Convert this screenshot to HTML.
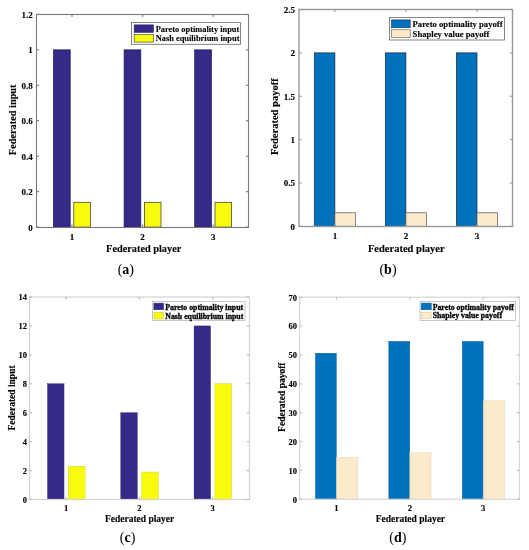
<!DOCTYPE html>
<html><head><meta charset="utf-8"><style>
html,body{margin:0;padding:0;background:#fff;}
body{width:529px;height:550px;overflow:hidden;}
svg{display:block;will-change:transform;filter:blur(0.3px);} text{stroke:#000;stroke-width:0.12px;} svg{font-family:"Liberation Serif", serif;font-weight:bold;fill:#000;}
.cap{font-weight:normal;stroke:none;}
</style></head><body>
<svg width="529" height="550" viewBox="0 0 529 550">
<rect width="529" height="550" fill="#fff"/>
<rect x="53.5" y="49.85" width="16.7" height="177.25" fill="#352a87" stroke="#1a1650" stroke-width="0.7"/>
<rect x="73.8" y="202.28" width="16.6" height="24.81" fill="#f9fb0e" stroke="#333" stroke-width="0.7"/>
<rect x="124.1" y="49.85" width="16.7" height="177.25" fill="#352a87" stroke="#1a1650" stroke-width="0.7"/>
<rect x="144.4" y="202.28" width="16.6" height="24.81" fill="#f9fb0e" stroke="#333" stroke-width="0.7"/>
<rect x="194.7" y="49.85" width="16.7" height="177.25" fill="#352a87" stroke="#1a1650" stroke-width="0.7"/>
<rect x="215" y="202.28" width="16.6" height="24.81" fill="#f9fb0e" stroke="#333" stroke-width="0.7"/>
<rect x="36.5" y="14.5" width="212" height="213" fill="none" stroke="#7a7a7a" stroke-width="1.1"/>
<line x1="36.5" y1="227.1" x2="39.1" y2="227.1" stroke="#7a7a7a" stroke-width="1.1"/>
<line x1="248.5" y1="227.1" x2="245.9" y2="227.1" stroke="#7a7a7a" stroke-width="1.1"/>
<line x1="36.5" y1="191.65" x2="39.1" y2="191.65" stroke="#7a7a7a" stroke-width="1.1"/>
<line x1="248.5" y1="191.65" x2="245.9" y2="191.65" stroke="#7a7a7a" stroke-width="1.1"/>
<line x1="36.5" y1="156.2" x2="39.1" y2="156.2" stroke="#7a7a7a" stroke-width="1.1"/>
<line x1="248.5" y1="156.2" x2="245.9" y2="156.2" stroke="#7a7a7a" stroke-width="1.1"/>
<line x1="36.5" y1="120.75" x2="39.1" y2="120.75" stroke="#7a7a7a" stroke-width="1.1"/>
<line x1="248.5" y1="120.75" x2="245.9" y2="120.75" stroke="#7a7a7a" stroke-width="1.1"/>
<line x1="36.5" y1="85.3" x2="39.1" y2="85.3" stroke="#7a7a7a" stroke-width="1.1"/>
<line x1="248.5" y1="85.3" x2="245.9" y2="85.3" stroke="#7a7a7a" stroke-width="1.1"/>
<line x1="36.5" y1="49.85" x2="39.1" y2="49.85" stroke="#7a7a7a" stroke-width="1.1"/>
<line x1="248.5" y1="49.85" x2="245.9" y2="49.85" stroke="#7a7a7a" stroke-width="1.1"/>
<line x1="36.5" y1="14.4" x2="39.1" y2="14.4" stroke="#7a7a7a" stroke-width="1.1"/>
<line x1="248.5" y1="14.4" x2="245.9" y2="14.4" stroke="#7a7a7a" stroke-width="1.1"/>
<line x1="72" y1="227.1" x2="72" y2="224.5" stroke="#7a7a7a" stroke-width="1.1"/>
<line x1="72" y1="14.4" x2="72" y2="17" stroke="#7a7a7a" stroke-width="1.1"/>
<line x1="142.6" y1="227.1" x2="142.6" y2="224.5" stroke="#7a7a7a" stroke-width="1.1"/>
<line x1="142.6" y1="14.4" x2="142.6" y2="17" stroke="#7a7a7a" stroke-width="1.1"/>
<line x1="213.2" y1="227.1" x2="213.2" y2="224.5" stroke="#7a7a7a" stroke-width="1.1"/>
<line x1="213.2" y1="14.4" x2="213.2" y2="17" stroke="#7a7a7a" stroke-width="1.1"/>
<text x="32.8" y="230.5" font-size="9" text-anchor="end">0</text>
<text x="32.8" y="195.05" font-size="9" text-anchor="end">0.2</text>
<text x="32.8" y="159.6" font-size="9" text-anchor="end">0.4</text>
<text x="32.8" y="124.15" font-size="9" text-anchor="end">0.6</text>
<text x="32.8" y="88.7" font-size="9" text-anchor="end">0.8</text>
<text x="32.8" y="53.25" font-size="9" text-anchor="end">1</text>
<text x="32.8" y="17.8" font-size="9" text-anchor="end">1.2</text>
<text x="72" y="240" font-size="9" text-anchor="middle">1</text>
<text x="142.6" y="240" font-size="9" text-anchor="middle">2</text>
<text x="213.2" y="240" font-size="9" text-anchor="middle">3</text>
<text x="143.7" y="252.3" font-size="10.3" text-anchor="middle">Federated player</text>
<text x="0" y="0" font-size="10.3" text-anchor="middle" transform="translate(15.8 119.8) rotate(-90)">Federated input</text>
<rect x="131.5" y="22.5" width="109" height="21.8" fill="#fff" stroke="#666" stroke-width="0.8"/>
<rect x="134.2" y="24.9" width="19.2" height="7.4" fill="#352a87" stroke="#1a1650" stroke-width="0.6"/>
<text x="155.7" y="31.8" font-size="8.4">Pareto optimality input</text>
<rect x="134.2" y="34.6" width="19.2" height="7.5" fill="#f9fb0e" stroke="#333" stroke-width="0.6"/>
<text x="155.7" y="41.1" font-size="8.4">Nash equilibrium input</text>
<text x="125.8" y="274" font-size="14" text-anchor="middle" class="cap">(<tspan font-weight="bold">a</tspan>)</text>
<rect x="314.3" y="52.86" width="20.6" height="173.44" fill="#0072bd" stroke="#1a2a40" stroke-width="0.7"/>
<rect x="334.9" y="212.77" width="20.6" height="13.53" fill="#fdeacb" stroke="#555" stroke-width="0.7"/>
<rect x="385.3" y="52.86" width="20.6" height="173.44" fill="#0072bd" stroke="#1a2a40" stroke-width="0.7"/>
<rect x="405.9" y="212.77" width="20.6" height="13.53" fill="#fdeacb" stroke="#555" stroke-width="0.7"/>
<rect x="456.4" y="52.86" width="20.6" height="173.44" fill="#0072bd" stroke="#1a2a40" stroke-width="0.7"/>
<rect x="477" y="212.77" width="20.6" height="13.53" fill="#fdeacb" stroke="#555" stroke-width="0.7"/>
<rect x="299" y="9.5" width="213.5" height="217" fill="none" stroke="#999" stroke-width="1.4"/>
<line x1="299.2" y1="226.3" x2="301.8" y2="226.3" stroke="#999" stroke-width="1.1"/>
<line x1="512.4" y1="226.3" x2="509.8" y2="226.3" stroke="#999" stroke-width="1.1"/>
<line x1="299.2" y1="182.94" x2="301.8" y2="182.94" stroke="#999" stroke-width="1.1"/>
<line x1="512.4" y1="182.94" x2="509.8" y2="182.94" stroke="#999" stroke-width="1.1"/>
<line x1="299.2" y1="139.58" x2="301.8" y2="139.58" stroke="#999" stroke-width="1.1"/>
<line x1="512.4" y1="139.58" x2="509.8" y2="139.58" stroke="#999" stroke-width="1.1"/>
<line x1="299.2" y1="96.22" x2="301.8" y2="96.22" stroke="#999" stroke-width="1.1"/>
<line x1="512.4" y1="96.22" x2="509.8" y2="96.22" stroke="#999" stroke-width="1.1"/>
<line x1="299.2" y1="52.86" x2="301.8" y2="52.86" stroke="#999" stroke-width="1.1"/>
<line x1="512.4" y1="52.86" x2="509.8" y2="52.86" stroke="#999" stroke-width="1.1"/>
<line x1="299.2" y1="9.5" x2="301.8" y2="9.5" stroke="#999" stroke-width="1.1"/>
<line x1="512.4" y1="9.5" x2="509.8" y2="9.5" stroke="#999" stroke-width="1.1"/>
<line x1="334.9" y1="226.3" x2="334.9" y2="223.7" stroke="#999" stroke-width="1.1"/>
<line x1="334.9" y1="9.5" x2="334.9" y2="12.1" stroke="#999" stroke-width="1.1"/>
<line x1="405.9" y1="226.3" x2="405.9" y2="223.7" stroke="#999" stroke-width="1.1"/>
<line x1="405.9" y1="9.5" x2="405.9" y2="12.1" stroke="#999" stroke-width="1.1"/>
<line x1="477" y1="226.3" x2="477" y2="223.7" stroke="#999" stroke-width="1.1"/>
<line x1="477" y1="9.5" x2="477" y2="12.1" stroke="#999" stroke-width="1.1"/>
<text x="295" y="229.7" font-size="9" text-anchor="end">0</text>
<text x="295" y="186.34" font-size="9" text-anchor="end">0.5</text>
<text x="295" y="142.98" font-size="9" text-anchor="end">1</text>
<text x="295" y="99.62" font-size="9" text-anchor="end">1.5</text>
<text x="295" y="56.26" font-size="9" text-anchor="end">2</text>
<text x="295" y="12.9" font-size="9" text-anchor="end">2.5</text>
<text x="334.9" y="239.3" font-size="9" text-anchor="middle">1</text>
<text x="405.9" y="239.3" font-size="9" text-anchor="middle">2</text>
<text x="477" y="239.3" font-size="9" text-anchor="middle">3</text>
<text x="406.3" y="252" font-size="10.5" text-anchor="middle">Federated player</text>
<text x="0" y="0" font-size="10.5" text-anchor="middle" transform="translate(278 116.7) rotate(-90)">Federated payoff</text>
<rect x="389.5" y="17.5" width="115" height="22.5" fill="#fff" stroke="#666" stroke-width="0.8"/>
<rect x="391.5" y="19.9" width="18.7" height="7.8" fill="#0072bd" stroke="#1a2a40" stroke-width="0.6"/>
<text x="412.6" y="27" font-size="8.65">Pareto optimality payoff</text>
<rect x="391.5" y="29.8" width="18.7" height="7.8" fill="#fdeacb" stroke="#555" stroke-width="0.6"/>
<text x="412.6" y="36.8" font-size="8.65">Shapley value payoff</text>
<text x="388" y="274" font-size="14" text-anchor="middle" class="cap">(<tspan font-weight="bold">b</tspan>)</text>
<rect x="47.53" y="383.79" width="16.5" height="115.71" fill="#352a87" stroke="#2a2270" stroke-width="0.4"/>
<rect x="68.33" y="466.23" width="16.8" height="33.27" fill="#f9fb0e" stroke="#c8c830" stroke-width="0.4"/>
<rect x="120.8" y="412.71" width="16.5" height="86.79" fill="#352a87" stroke="#2a2270" stroke-width="0.4"/>
<rect x="141.6" y="472.02" width="16.8" height="27.48" fill="#f9fb0e" stroke="#c8c830" stroke-width="0.4"/>
<rect x="194.07" y="325.93" width="16.5" height="173.57" fill="#352a87" stroke="#2a2270" stroke-width="0.4"/>
<rect x="214.87" y="383.79" width="16.8" height="115.71" fill="#f9fb0e" stroke="#c8c830" stroke-width="0.4"/>
<rect x="29.5" y="297" width="220" height="202.5" fill="none" stroke="#d2d2d2" stroke-width="1.2"/>
<line x1="29.5" y1="499.5" x2="32.1" y2="499.5" stroke="#bbb" stroke-width="1.1"/>
<line x1="249.3" y1="499.5" x2="246.7" y2="499.5" stroke="#bbb" stroke-width="1.1"/>
<line x1="29.5" y1="470.57" x2="32.1" y2="470.57" stroke="#bbb" stroke-width="1.1"/>
<line x1="249.3" y1="470.57" x2="246.7" y2="470.57" stroke="#bbb" stroke-width="1.1"/>
<line x1="29.5" y1="441.64" x2="32.1" y2="441.64" stroke="#bbb" stroke-width="1.1"/>
<line x1="249.3" y1="441.64" x2="246.7" y2="441.64" stroke="#bbb" stroke-width="1.1"/>
<line x1="29.5" y1="412.71" x2="32.1" y2="412.71" stroke="#bbb" stroke-width="1.1"/>
<line x1="249.3" y1="412.71" x2="246.7" y2="412.71" stroke="#bbb" stroke-width="1.1"/>
<line x1="29.5" y1="383.79" x2="32.1" y2="383.79" stroke="#bbb" stroke-width="1.1"/>
<line x1="249.3" y1="383.79" x2="246.7" y2="383.79" stroke="#bbb" stroke-width="1.1"/>
<line x1="29.5" y1="354.86" x2="32.1" y2="354.86" stroke="#bbb" stroke-width="1.1"/>
<line x1="249.3" y1="354.86" x2="246.7" y2="354.86" stroke="#bbb" stroke-width="1.1"/>
<line x1="29.5" y1="325.93" x2="32.1" y2="325.93" stroke="#bbb" stroke-width="1.1"/>
<line x1="249.3" y1="325.93" x2="246.7" y2="325.93" stroke="#bbb" stroke-width="1.1"/>
<line x1="29.5" y1="297" x2="32.1" y2="297" stroke="#bbb" stroke-width="1.1"/>
<line x1="249.3" y1="297" x2="246.7" y2="297" stroke="#bbb" stroke-width="1.1"/>
<line x1="66.13" y1="499.5" x2="66.13" y2="496.9" stroke="#bbb" stroke-width="1.1"/>
<line x1="66.13" y1="297" x2="66.13" y2="299.6" stroke="#bbb" stroke-width="1.1"/>
<line x1="139.4" y1="499.5" x2="139.4" y2="496.9" stroke="#bbb" stroke-width="1.1"/>
<line x1="139.4" y1="297" x2="139.4" y2="299.6" stroke="#bbb" stroke-width="1.1"/>
<line x1="212.67" y1="499.5" x2="212.67" y2="496.9" stroke="#bbb" stroke-width="1.1"/>
<line x1="212.67" y1="297" x2="212.67" y2="299.6" stroke="#bbb" stroke-width="1.1"/>
<text x="27" y="502.9" font-size="8.5" text-anchor="end">0</text>
<text x="27" y="473.97" font-size="8.5" text-anchor="end">2</text>
<text x="27" y="445.04" font-size="8.5" text-anchor="end">4</text>
<text x="27" y="416.11" font-size="8.5" text-anchor="end">6</text>
<text x="27" y="387.19" font-size="8.5" text-anchor="end">8</text>
<text x="27" y="358.26" font-size="8.5" text-anchor="end">10</text>
<text x="27" y="329.33" font-size="8.5" text-anchor="end">12</text>
<text x="27" y="300.4" font-size="8.5" text-anchor="end">14</text>
<text x="66.13" y="510.5" font-size="8.5" text-anchor="middle">1</text>
<text x="139.4" y="510.5" font-size="8.5" text-anchor="middle">2</text>
<text x="212.67" y="510.5" font-size="8.5" text-anchor="middle">3</text>
<text x="139.6" y="522" font-size="9.5" text-anchor="middle">Federated player</text>
<text x="0" y="0" font-size="9.5" text-anchor="middle" transform="translate(14.6 398) rotate(-90)">Federated input</text>
<rect x="152.4" y="301.5" width="92.6" height="19" fill="#fff" stroke="#bbb" stroke-width="0.8"/>
<rect x="153.9" y="303.2" width="9.6" height="6.5" fill="#352a87" stroke="#2a2270" stroke-width="0.6"/>
<text x="165.3" y="309.9" font-size="7.8" style="stroke-width:0.3px">Pareto optimality input</text>
<rect x="153.9" y="312.4" width="9.6" height="6.6" fill="#f9fb0e" stroke="#c8c830" stroke-width="0.6"/>
<text x="165.3" y="318.5" font-size="7.8" style="stroke-width:0.3px">Nash equilibrium input</text>
<text x="127.6" y="542" font-size="14" text-anchor="middle" class="cap">(<tspan font-weight="bold">c</tspan>)</text>
<rect x="315.4" y="353.21" width="21" height="146.09" fill="#0072bd" stroke="#0a5a95" stroke-width="0.4"/>
<rect x="336.4" y="457.44" width="21.2" height="41.86" fill="#fdeacb" stroke="#d8c8a8" stroke-width="0.4"/>
<rect x="388.8" y="341.37" width="21" height="157.93" fill="#0072bd" stroke="#0a5a95" stroke-width="0.4"/>
<rect x="409.8" y="452.82" width="21.2" height="46.48" fill="#fdeacb" stroke="#d8c8a8" stroke-width="0.4"/>
<rect x="462.2" y="341.37" width="21" height="157.93" fill="#0072bd" stroke="#0a5a95" stroke-width="0.4"/>
<rect x="483.2" y="400.85" width="21.2" height="98.45" fill="#fdeacb" stroke="#d8c8a8" stroke-width="0.4"/>
<rect x="299.6" y="297.2" width="219.9" height="202.1" fill="none" stroke="#d6d6d6" stroke-width="1.2"/>
<line x1="299.6" y1="499.3" x2="302.2" y2="499.3" stroke="#bbb" stroke-width="1.1"/>
<line x1="519.5" y1="499.3" x2="516.9" y2="499.3" stroke="#bbb" stroke-width="1.1"/>
<line x1="299.6" y1="470.43" x2="302.2" y2="470.43" stroke="#bbb" stroke-width="1.1"/>
<line x1="519.5" y1="470.43" x2="516.9" y2="470.43" stroke="#bbb" stroke-width="1.1"/>
<line x1="299.6" y1="441.56" x2="302.2" y2="441.56" stroke="#bbb" stroke-width="1.1"/>
<line x1="519.5" y1="441.56" x2="516.9" y2="441.56" stroke="#bbb" stroke-width="1.1"/>
<line x1="299.6" y1="412.69" x2="302.2" y2="412.69" stroke="#bbb" stroke-width="1.1"/>
<line x1="519.5" y1="412.69" x2="516.9" y2="412.69" stroke="#bbb" stroke-width="1.1"/>
<line x1="299.6" y1="383.81" x2="302.2" y2="383.81" stroke="#bbb" stroke-width="1.1"/>
<line x1="519.5" y1="383.81" x2="516.9" y2="383.81" stroke="#bbb" stroke-width="1.1"/>
<line x1="299.6" y1="354.94" x2="302.2" y2="354.94" stroke="#bbb" stroke-width="1.1"/>
<line x1="519.5" y1="354.94" x2="516.9" y2="354.94" stroke="#bbb" stroke-width="1.1"/>
<line x1="299.6" y1="326.07" x2="302.2" y2="326.07" stroke="#bbb" stroke-width="1.1"/>
<line x1="519.5" y1="326.07" x2="516.9" y2="326.07" stroke="#bbb" stroke-width="1.1"/>
<line x1="299.6" y1="297.2" x2="302.2" y2="297.2" stroke="#bbb" stroke-width="1.1"/>
<line x1="519.5" y1="297.2" x2="516.9" y2="297.2" stroke="#bbb" stroke-width="1.1"/>
<line x1="336.4" y1="499.3" x2="336.4" y2="496.7" stroke="#bbb" stroke-width="1.1"/>
<line x1="336.4" y1="297.2" x2="336.4" y2="299.8" stroke="#bbb" stroke-width="1.1"/>
<line x1="409.8" y1="499.3" x2="409.8" y2="496.7" stroke="#bbb" stroke-width="1.1"/>
<line x1="409.8" y1="297.2" x2="409.8" y2="299.8" stroke="#bbb" stroke-width="1.1"/>
<line x1="483.2" y1="499.3" x2="483.2" y2="496.7" stroke="#bbb" stroke-width="1.1"/>
<line x1="483.2" y1="297.2" x2="483.2" y2="299.8" stroke="#bbb" stroke-width="1.1"/>
<text x="297" y="502.7" font-size="8.5" text-anchor="end">0</text>
<text x="297" y="473.83" font-size="8.5" text-anchor="end">10</text>
<text x="297" y="444.96" font-size="8.5" text-anchor="end">20</text>
<text x="297" y="416.09" font-size="8.5" text-anchor="end">30</text>
<text x="297" y="387.21" font-size="8.5" text-anchor="end">40</text>
<text x="297" y="358.34" font-size="8.5" text-anchor="end">50</text>
<text x="297" y="329.47" font-size="8.5" text-anchor="end">60</text>
<text x="297" y="300.6" font-size="8.5" text-anchor="end">70</text>
<text x="336.4" y="510.5" font-size="8.5" text-anchor="middle">1</text>
<text x="409.8" y="510.5" font-size="8.5" text-anchor="middle">2</text>
<text x="483.2" y="510.5" font-size="8.5" text-anchor="middle">3</text>
<text x="410.4" y="522" font-size="9.5" text-anchor="middle">Federated player</text>
<text x="0" y="0" font-size="9.5" text-anchor="middle" transform="translate(285.3 397.2) rotate(-90)">Federated payoff</text>
<rect x="420" y="301.5" width="95.5" height="19" fill="#fff" stroke="#bbb" stroke-width="0.8"/>
<rect x="421.2" y="303.1" width="10" height="6.6" fill="#0072bd" stroke="#0a5a95" stroke-width="0.6"/>
<text x="432.7" y="309.7" font-size="7.8" style="stroke-width:0.3px">Pareto optimality payoff</text>
<rect x="421.2" y="312.2" width="10" height="6.4" fill="#fdeacb" stroke="#d8c8a8" stroke-width="0.6"/>
<text x="432.7" y="318.4" font-size="7.8" style="stroke-width:0.3px">Shapley value payoff</text>
<text x="397.8" y="542" font-size="14" text-anchor="middle" class="cap">(<tspan font-weight="bold">d</tspan>)</text>
</svg>
</body></html>
